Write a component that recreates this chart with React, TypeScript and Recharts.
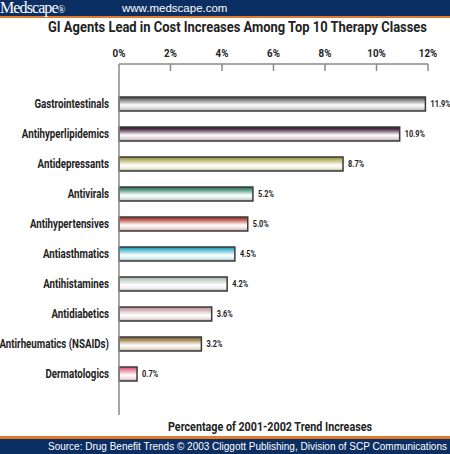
import React from "react";
import { Bar, BarChart, Cell, LabelList, XAxis, YAxis } from "recharts";

// therapy classes, top to bottom
const classes = [
  "Gastrointestinals",
  "Antihyperlipidemics",
  "Antidepressants",
  "Antivirals",
  "Antihypertensives",
  "Antiasthmatics",
  "Antihistamines",
  "Antidiabetics",
  "Antirheumatics (NSAIDs)",
  "Dermatologics",
];
const increases = [11.9, 10.9, 8.7, 5.2, 5.0, 4.5, 4.2, 3.6, 3.2, 0.7];
const xTicks = [0, 2, 4, 6, 8, 10, 12];

// tube colours: [dark edge, base, light tint]
const tubeColors: [string, string, string][] = [
  ["#3c3c3c", "#8a8a8a", "#dcdcdc"],
  ["#1e0c1a", "#6a4a62", "#e6d8e0"],
  ["#8c8a3a", "#bdbb74", "#f2f1dc"],
  ["#1c6a52", "#5e9e88", "#dcece6"],
  ["#8e2a22", "#c0685c", "#f4dcd4"],
  ["#1590a8", "#5cc0d2", "#d8f0f4"],
  ["#a8b8aa", "#c8d4ca", "#eef3ee"],
  ["#b8909c", "#d4b4bc", "#f4e6ea"],
  ["#7a6030", "#a88e5e", "#eee4d2"],
  ["#d84a6a", "#ea8aa0", "#fadce2"],
];

const rows = classes.map((name, i) => ({ name, value: increases[i] }));

const NAVY = "#0c2f63";
const ORANGE = "#e07a2a";
const BOLD = "Roboto, 'Liberation Sans', sans-serif";
const AXIS_Y = 64;
const SQUEEZE = 0.81; // condensed look from a regular-width face

const TopTick = (props: any) => {
  const { x, payload } = props;
  return (
    <g>
      {payload.value !== 0 && (
        <line x1={x} x2={x} y1={AXIS_Y} y2={AXIS_Y + 7} stroke="#8a8a8a" strokeWidth={1.5} />
      )}
      <text
        transform={`translate(${x},57) scale(0.85,1)`}
        textAnchor="middle"
        fontFamily={BOLD}
        fontWeight="bold"
        fontSize={11.5}
        fill="#222"
      >
        {payload.value}%
      </text>
    </g>
  );
};

const ClassTick = (props: any) => {
  const { x, y, payload } = props;
  return (
    <text
      transform={`translate(${x},${y}) scale(${SQUEEZE},1)`}
      textAnchor="end"
      dy="0.36em"
      fontFamily={BOLD}
      fontWeight="bold"
      fontSize={12}
      fill="#222"
    >
      {payload.value}
    </text>
  );
};

const ValueLabel = (props: any) => {
  const { x, y, width, height, value } = props;
  return (
    <text
      transform={`translate(${x + width + 5},${y + height / 2}) scale(0.82,1)`}
      dy="0.36em"
      fontFamily={BOLD}
      fontWeight="bold"
      fontSize={9}
      fill="#222"
    >
      {Number(value).toFixed(1)}%
    </text>
  );
};

export default function App() {
  return (
    <div
      style={{
        position: "absolute",
        left: 0,
        top: 0,
        width: 450,
        height: 454,
        background: "#fff",
        overflow: "hidden",
      }}
    >
      <div style={{ position: "absolute", left: 0, top: 0 }}>
        <BarChart
          width={450}
          height={454}
          data={rows}
          layout="vertical"
          margin={{ top: 34, right: 22, bottom: 39, left: 9 }}
        >
          <defs>
            {tubeColors.map(([dark, base, tint], i) => (
              <linearGradient key={i} id={`tube${i}`} x1="0" y1="0" x2="0" y2="1">
                <stop offset="0%" stopColor={dark} />
                <stop offset="22%" stopColor={base} />
                <stop offset="58%" stopColor="#ffffff" />
                <stop offset="80%" stopColor={tint} />
                <stop offset="100%" stopColor="#b0b0b0" />
              </linearGradient>
            ))}
          </defs>
          <XAxis
            type="number"
            orientation="top"
            domain={[0, 12]}
            ticks={xTicks}
            height={30}
            axisLine={{ stroke: "#8a8a8a", strokeWidth: 1.5 }}
            tickLine={false}
            tick={<TopTick />}
          />
          <YAxis
            type="category"
            dataKey="name"
            width={110}
            padding={{ top: 25, bottom: 26 }}
            axisLine={{ stroke: "#8a8a8a", strokeWidth: 1.5 }}
            tickLine={false}
            tickMargin={4}
            tick={<ClassTick />}
          />
          <Bar dataKey="value" barSize={14} stroke="#3a3a3a" strokeWidth={1.5} isAnimationActive={false}>
            {rows.map((_, i) => (
              <Cell key={i} fill={`url(#tube${i})`} />
            ))}
            <LabelList dataKey="value" content={<ValueLabel />} />
          </Bar>
        </BarChart>
      </div>

      {/* header, titles and footer */}
      <svg
        width={450}
        height={454}
        style={{ position: "absolute", left: 0, top: 0, pointerEvents: "none" }}
      >
        <rect x={0} y={0} width={450} height={16} fill={NAVY} />
        <rect x={0} y={16} width={450} height={2} fill={ORANGE} />
        <text x={0} y={13} fill="#fff" fontFamily="'Liberation Serif', serif" fontSize={16} letterSpacing={-0.9}>
          Medscape<tspan fontSize={10}>®</tspan>
        </text>
        <text x={122} y={12} fill="#fff" fontFamily="'Liberation Sans', Arial, sans-serif" fontSize={11.5}>
          www.medscape.com
        </text>
        <text
          x={48}
          y={32}
          textLength={379}
          lengthAdjust="spacingAndGlyphs"
          fontFamily={BOLD}
          fontWeight="bold"
          fontSize={14.5}
          fill="#222"
        >
          GI Agents Lead in Cost Increases Among Top 10 Therapy Classes
        </text>
        <text
          x={168}
          y={431}
          textLength={204}
          lengthAdjust="spacingAndGlyphs"
          fontFamily={BOLD}
          fontWeight="bold"
          fontSize={13}
          fill="#222"
        >
          Percentage of 2001-2002 Trend Increases
        </text>
        <rect x={0} y={436} width={450} height={3} fill={ORANGE} />
        <rect x={0} y={439} width={450} height={15} fill={NAVY} />
        <text
          x={48}
          y={450}
          textLength={399}
          lengthAdjust="spacingAndGlyphs"
          fill="#fff"
          fontFamily="'Liberation Sans', Arial, sans-serif"
          fontSize={10.3}
        >
          Source: Drug Benefit Trends © 2003 Cliggott Publishing, Division of SCP Communications
        </text>
      </svg>
    </div>
  );
}
